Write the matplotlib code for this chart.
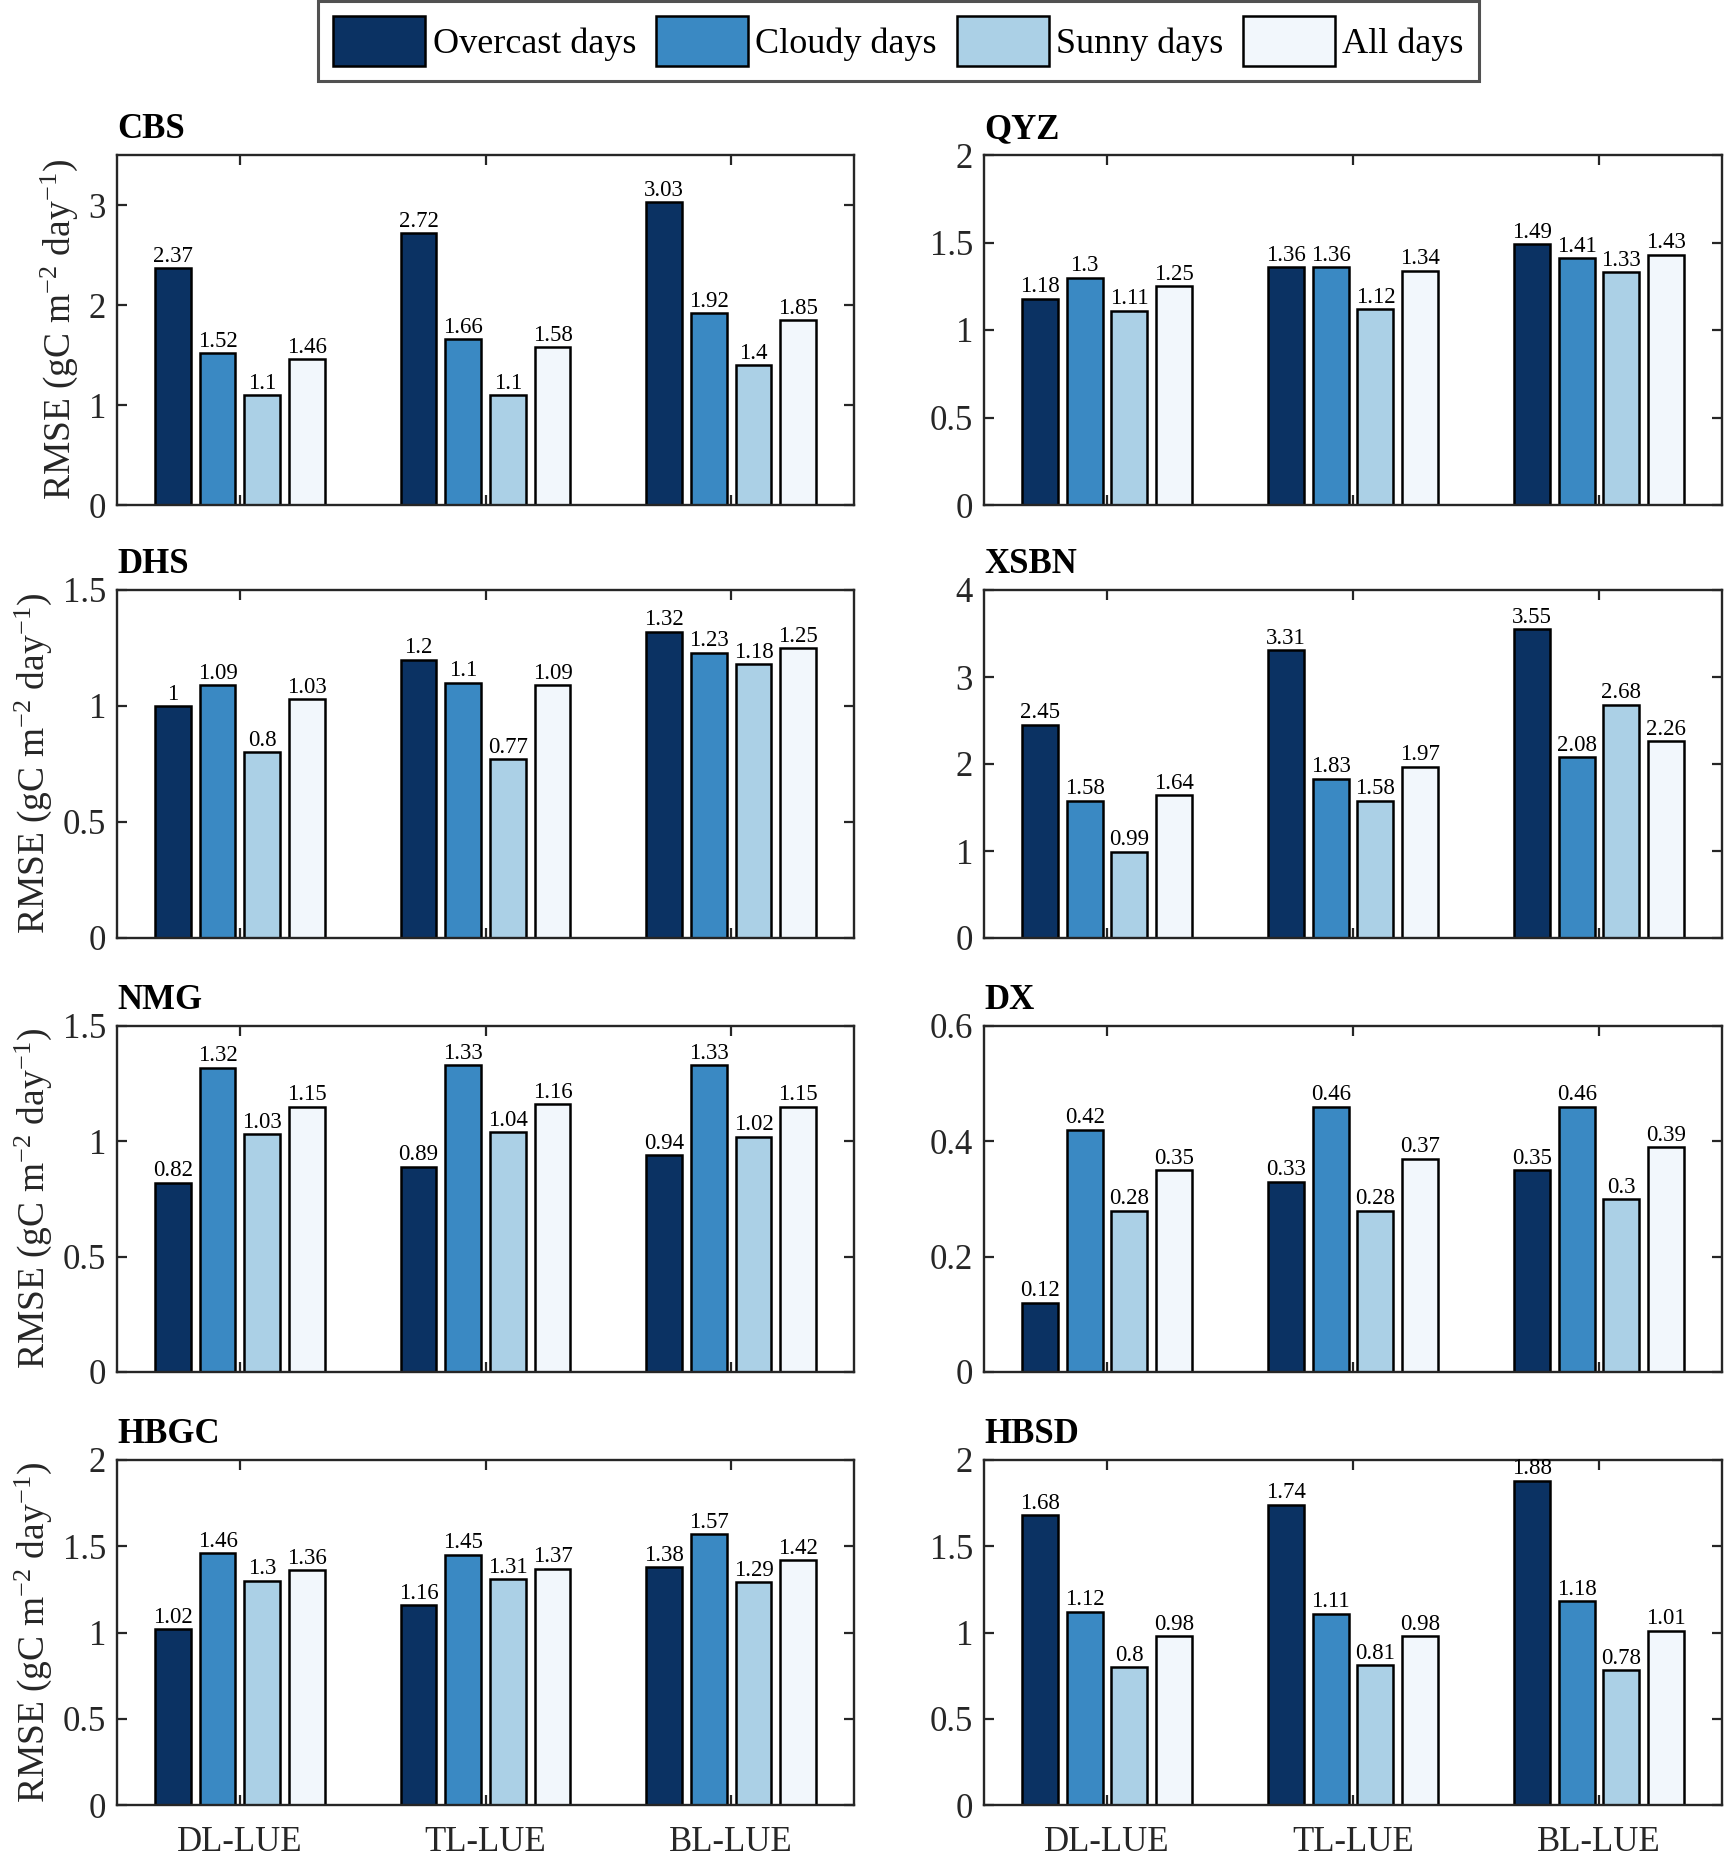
import matplotlib
matplotlib.use("Agg")
import matplotlib.pyplot as plt
from matplotlib.ticker import FormatStrFormatter
import numpy as np

plt.rcParams.update({
    "font.family": "Liberation Serif",
    "mathtext.fontset": "custom",
    "mathtext.rm": "Liberation Serif",
    "mathtext.it": "Liberation Serif:italic",
    "mathtext.bf": "Liberation Serif:bold",
})

# ---- data ----
models = ["DL-LUE", "TL-LUE", "BL-LUE"]
conditions = ["Overcast days", "Cloudy days", "Sunny days", "All days"]
sites = ["CBS", "QYZ", "DHS", "XSBN", "NMG", "DX", "HBGC", "HBSD"]

# rows = models (DL, TL, BL), cols = conditions (overcast, cloudy, sunny, all)
cbs = [[2.37, 1.52, 1.10, 1.46], [2.72, 1.66, 1.10, 1.58], [3.03, 1.92, 1.40, 1.85]]
qyz = [[1.18, 1.30, 1.11, 1.25], [1.36, 1.36, 1.12, 1.34], [1.49, 1.41, 1.33, 1.43]]
dhs = [[1.00, 1.09, 0.80, 1.03], [1.20, 1.10, 0.77, 1.09], [1.32, 1.23, 1.18, 1.25]]
xsbn = [[2.45, 1.58, 0.99, 1.64], [3.31, 1.83, 1.58, 1.97], [3.55, 2.08, 2.68, 2.26]]
nmg = [[0.82, 1.32, 1.03, 1.15], [0.89, 1.33, 1.04, 1.16], [0.94, 1.33, 1.02, 1.15]]
dx = [[0.12, 0.42, 0.28, 0.35], [0.33, 0.46, 0.28, 0.37], [0.35, 0.46, 0.30, 0.39]]
hbgc = [[1.02, 1.46, 1.30, 1.36], [1.16, 1.45, 1.31, 1.37], [1.38, 1.57, 1.29, 1.42]]
hbsd = [[1.68, 1.12, 0.80, 0.98], [1.74, 1.11, 0.81, 0.98], [1.88, 1.18, 0.78, 1.01]]
site_values = [cbs, qyz, dhs, xsbn, nmg, dx, hbgc, hbsd]

y_max = [3.5, 2, 1.5, 4, 1.5, 0.6, 2, 2]
y_step = [1, 0.5, 0.5, 1, 0.5, 0.2, 0.5, 0.5]

colors = ["#0b3263", "#3a89c3", "#abd0e6", "#f2f7fc"]
AX_C = "#262626"

fig = plt.figure(figsize=(17.25, 18.55), dpi=100, facecolor="white")

W, H = 1725, 1855
col_x = [(117, 854), (984, 1722)]
row_y = [(155, 505), (590, 938), (1026, 1372), (1460, 1805)]

# MATLAB-style grouped bar geometry (4 series)
ngrp = len(conditions)
grp_w = min(0.8, ngrp / (ngrp + 1.5))
step = grp_w / ngrp
bw = step * 0.8
offsets = (np.arange(ngrp) - (ngrp - 1) / 2) * step
xg = np.arange(1, len(models) + 1)

handles = None
for i, site in enumerate(sites):
    r, c = divmod(i, 2)
    x0, x1 = col_x[c]
    ytop, ybot = row_y[r]
    ax = fig.add_axes([x0 / W, 1 - ybot / H, (x1 - x0) / W, (ybot - ytop) / H])
    vals = np.array(site_values[i])
    bars = []
    for k in range(ngrp):
        b = ax.bar(xg + offsets[k], vals[:, k], width=bw, color=colors[k],
                   edgecolor="black", linewidth=1.8, label=conditions[k])
        labs = [f"{round(v, 2):g}" for v in vals[:, k]]
        ax.bar_label(b, labels=labs, padding=1, fontsize=16.5)
        bars.append(b)
    if handles is None:
        handles = bars

    ax.set_xlim(0.5, 3.5)
    ax.set_ylim(0, y_max[i])
    ax.set_yticks(np.arange(0, y_max[i] + 1e-9, y_step[i]))
    ax.yaxis.set_major_formatter(FormatStrFormatter("%g"))
    ax.set_xticks(xg)
    if r == 3:
        ax.set_xticklabels(models)
    else:
        ax.set_xticklabels([])
    ax.tick_params(axis="both", direction="in", top=True, right=True,
                   length=7, width=1.6, color=AX_C, labelsize=25,
                   labelcolor=AX_C)
    ax.tick_params(axis="y", pad=8)
    ax.tick_params(axis="x", pad=15)
    for s in ax.spines.values():
        s.set_linewidth(1.7)
        s.set_color(AX_C)
    ax.set_title(site, loc="left", fontsize=25, fontweight="bold", pad=12)
    if c == 0:
        ax.set_ylabel(r"RMSE (gC m$^{-2}$ day$^{-1}$)", fontsize=27,
                      color=AX_C, labelpad=6)

leg = fig.legend(handles, conditions, loc="upper center",
                 bbox_to_anchor=(898.5 / W, 1 - 1 / H), ncol=4, fontsize=26,
                 frameon=True, fancybox=False, edgecolor=AX_C,
                 handlelength=2.55, handleheight=1.75, handletextpad=0.2,
                 columnspacing=0.55, borderpad=0.42, borderaxespad=0)
leg.get_frame().set_linewidth(2.2)

fig.savefig("out.png", dpi=100, facecolor="white")
